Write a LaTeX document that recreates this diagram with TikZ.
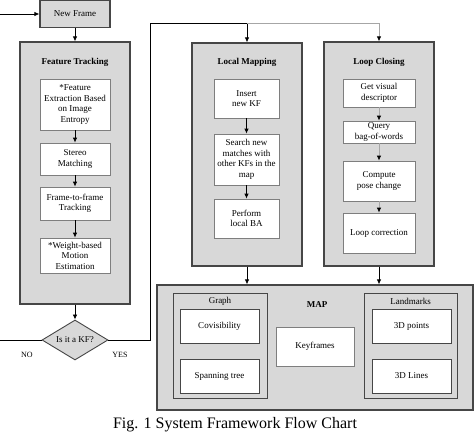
\documentclass[tikz,border=0pt]{standalone}
\usepackage{fontspec}
\setmainfont{Liberation Serif}
\usetikzlibrary{shapes.geometric,arrows.meta}
\definecolor{panelgray}{RGB}{216,216,216}
\definecolor{edgegray}{RGB}{70,70,70}

\begin{document}
\begin{tikzpicture}[x=1pt, y=-1pt,
	every node/.style={font=\fontsize{9}{10.5}\selectfont, align=center, inner sep=1pt},
	panel/.style={draw=edgegray, line width=1.2pt, fill=panelgray},
	innerbox/.style={draw=edgegray!70, line width=0.8pt, fill=white},
	mapbox/.style={draw=edgegray, line width=1pt, fill=white},
	title/.style={font=\fontsize{9}{10.5}\selectfont\bfseries},
	flow/.style={-{Latex[length=5pt,width=4.5pt]}, line width=0.8pt},
	flowlight/.style={-{Latex[length=5pt,width=4.5pt,color=black]}, line width=0.8pt, black!35}]

		\useasboundingbox (0,0) rectangle (474,434);
		\fill[white] (0,0) rectangle (474,434);

		\pgfmathsetmacro{\panelwidth}{110}
		\pgfmathsetmacro{\lmx}{247}
		\pgfmathsetmacro{\lcx}{379}

		% draw feature tracking column
		\node[panel, minimum width=70, minimum height=27] (newframe) at (75,14) {New Frame};
		\node[panel, minimum width=\panelwidth, minimum height=262] (ft) at (75,173) {};
		\node[title] (fttitle) at (75,62) {Feature Tracking};
		\node[innerbox, minimum width=70, minimum height=51] (fe) at (75,104.5) {*Feature\\Extraction Based\\on Image\\Entropy};
		\node[innerbox, minimum width=70, minimum height=32] (sm) at (75,159) {Stereo\\Matching};
		\node[innerbox, minimum width=70, minimum height=33] (ftt) at (75,203.5) {Frame-to-frame\\Tracking};
		\node[innerbox, minimum width=70, minimum height=35] (wme) at (75,255.5) {*Weight-based\\Motion\\Estimation};
		\node[panel, line width=0.9pt, diamond, aspect=1.65, minimum width=66, minimum height=40, inner sep=0] (kf) at (75,340) {Is it a KF?};
		\node[font=\fontsize{8}{9}\selectfont] (no) at (27,355) {NO};
		\node[font=\fontsize{8}{9}\selectfont] (yes) at (120,355) {YES};

		\coordinate (feed) at (0,14);
		\coordinate (exit) at (0,340);
		\draw[flow] (feed) -- (newframe);
		\draw[flow] (newframe) -- (ft);
		\foreach \a/\b in {fe/sm, sm/ftt, ftt/wme}
		{
			\draw[flow] (\a) -- (\b);
		}
		\draw[flow] (ft) -- (kf);
		\draw[line width=0.8pt] (kf.west) -- (exit);

		% draw local mapping column
		\begin{scope}[shift={(\lmx,0)}]
			\node[panel, minimum width=\panelwidth, minimum height=223] (lm) at (0,154.5) {};
			\node[title] (lmtitle) at (0,62) {Local Mapping};
			\node[innerbox, minimum width=65, minimum height=39] (insert) at (-0.5,98.5) {Insert\\new KF};
			\node[innerbox, minimum width=65, minimum height=51] (search) at (-0.5,159.5) {Search new\\matches with\\other KFs in the\\map};
			\node[innerbox, minimum width=65, minimum height=39] (ba) at (-0.5,218.5) {Perform\\local BA};
		\end{scope}
		\foreach \a/\b in {insert/search, search/ba}
		{
			\draw[flow] (\a) -- (\b);
		}

		% draw loop closing column
		\begin{scope}[shift={(\lcx,0)}]
			\node[panel, minimum width=\panelwidth, minimum height=224] (lc) at (0,154) {};
			\node[title] (lctitle) at (0,62) {Loop Closing};
			\node[innerbox, minimum width=72, minimum height=28] (gvd) at (0,93) {Get visual\\descriptor};
			\node[innerbox, minimum width=72, minimum height=22, inner sep=0] (qbw) at (0,132) {Query\\bag-of-words};
			\node[innerbox, minimum width=72, minimum height=40] (cpc) at (0,181) {Compute\\pose change};
			\node[innerbox, minimum width=72, minimum height=40] (lcorr) at (0,233) {Loop correction};
		\end{scope}
		\foreach \a/\b in {gvd/qbw, qbw/cpc, cpc/lcorr}
		{
			\draw[flowlight] (\a) -- (\b);
		}

		% draw run from the keyframe test to both threads
		\coordinate (bend) at (150,340);
		\coordinate (top) at (150,23);
		\coordinate (lmtop) at (\lmx,23);
		\coordinate (lctop) at (\lcx,23);
		\draw[line width=0.8pt] (kf.east) -- (bend) -- (top) -- (lmtop);
		\draw[flow] (lmtop) -- (lm);
		\draw[black!35, line width=0.8pt] (lmtop) -- (lctop);
		\draw[flowlight] (lctop) -- (lc);

		% draw map
		\node[panel, minimum width=316, minimum height=125] (map) at (315,347.5) {};
		\node[title] (maptitle) at (317,305) {MAP};
		\node[draw=edgegray, line width=1pt, fill=panelgray, minimum width=94, minimum height=105] (graph) at (220,345.5) {};
		\node (graphtitle) at (220,301) {Graph};
		\node[mapbox, minimum width=79, minimum height=34] (covis) at (219.5,326) {Covisibility};
		\node[mapbox, minimum width=79, minimum height=34] (span) at (219.5,376) {Spanning tree};
		\node[innerbox, minimum width=78, minimum height=39] (keyframes) at (315,346.5) {Keyframes};
		\node[draw=edgegray, line width=1pt, fill=panelgray, minimum width=93, minimum height=105] (landmarks) at (410.5,345.5) {};
		\node (landmarkstitle) at (410.5,301) {Landmarks};
		\node[mapbox, minimum width=79, minimum height=34] (points) at (411.5,326) {3D points};
		\node[mapbox, minimum width=79, minimum height=34] (lines) at (411.5,376) {3D Lines};

		\draw[flow] (lm) -- (lm.south |- map.north);
		\draw[flow] (lc) -- (lc.south |- map.north);

		\node[font=\fontsize{16}{18}\selectfont] (caption) at (235,425) {Fig. 1 System Framework Flow Chart};

	\end{tikzpicture}
\end{document}
